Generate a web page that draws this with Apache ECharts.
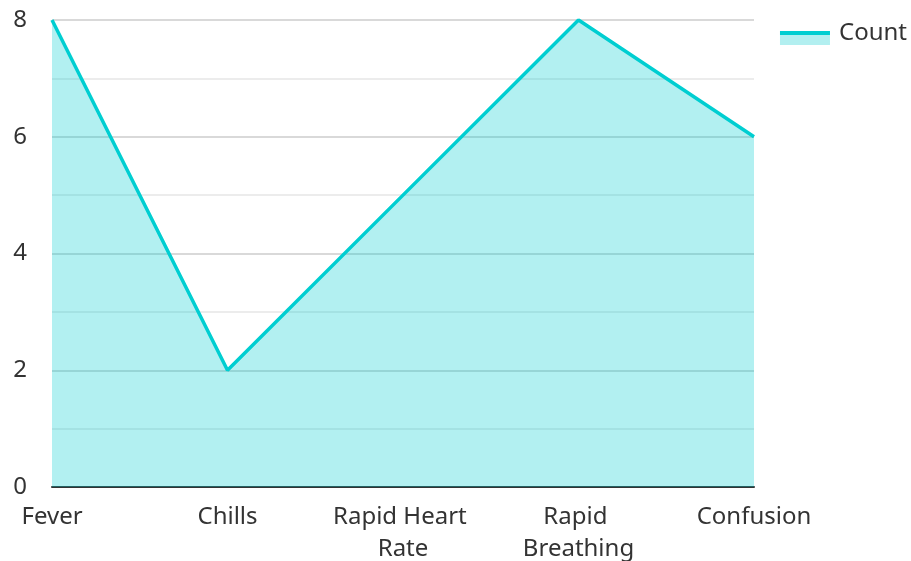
<!DOCTYPE html>
<html>
<head>
<meta charset="utf-8">
<script src="https://cdn.jsdelivr.net/npm/echarts@6/dist/echarts.min.js"></script>
<style>
  html, body { margin: 0; padding: 0; background: #fff; }
  #chart { width: 911px; height: 561px; }
</style>
</head>
<body>
<div id="chart"></div>
<script>
// Symptom counts
const categories = ['Fever', 'Chills', 'Rapid Heart Rate', 'Rapid Breathing', 'Confusion'];
const countValues = [8, 2, 5, 8, 6];
const seriesName = 'Count';

const lineColor = '#00CED1';
const areaColor = '#b2eff0';

const chart = echarts.init(document.getElementById('chart'));
const font = '"Noto Sans", sans-serif';

chart.setOption({
  animation: false,
  textStyle: { fontFamily: font },
  grid: { left: 52, right: 157, top: 20, bottom: 74, outerBoundsMode: 'none', containLabel: false },
  legend: {
    show: true,
    right: -1,
    top: 16,
    itemWidth: 50,
    itemHeight: 24,
    itemGap: 8,
    textStyle: { fontSize: 24, color: '#333', fontFamily: font, padding: [0, 0, 0, 4] },
    data: [{
      name: seriesName,
      icon: 'rect',
      // line stripe over a pale area swatch, sitting in the lower part of the item
      itemStyle: {
        color: {
          type: 'linear', x: 0, y: 0, x2: 0, y2: 1,
          colorStops: [
            { offset: 0, color: 'rgba(255,255,255,0)' },
            { offset: 0.42, color: 'rgba(255,255,255,0)' },
            { offset: 0.42, color: lineColor },
            { offset: 0.57, color: lineColor },
            { offset: 0.57, color: areaColor },
            { offset: 1, color: areaColor }
          ]
        }
      }
    }]
  },
  xAxis: {
    type: 'category',
    data: categories,
    boundaryGap: false,
    axisLine: { lineStyle: { color: '#333', width: 2 } },
    axisTick: { show: false },
    axisLabel: {
      fontSize: 24,
      color: '#333',
      margin: 14,
      lineHeight: 32,
      width: 160,
      overflow: 'break',
      interval: 0
    },
    splitLine: { show: false }
  },
  yAxis: {
    type: 'value',
    min: 0,
    max: 8,
    interval: 2,
    axisLine: { show: false },
    axisTick: { show: false },
    axisLabel: { fontSize: 24, color: '#333', margin: 25 },
    splitLine: { lineStyle: { color: '#cccccc', width: 1.5 } },
    minorTick: { show: false, splitNumber: 2 },
    minorSplitLine: { show: true, lineStyle: { color: '#e6e6e6', width: 1.5 } }
  },
  series: [{
    name: seriesName,
    type: 'line',
    data: countValues,
    showSymbol: false,
    symbol: 'none',
    lineStyle: { color: lineColor, width: 3.5 },
    itemStyle: { color: lineColor },
    areaStyle: { color: lineColor, opacity: 0.3 }
  }]
});
</script>
</body>
</html>
